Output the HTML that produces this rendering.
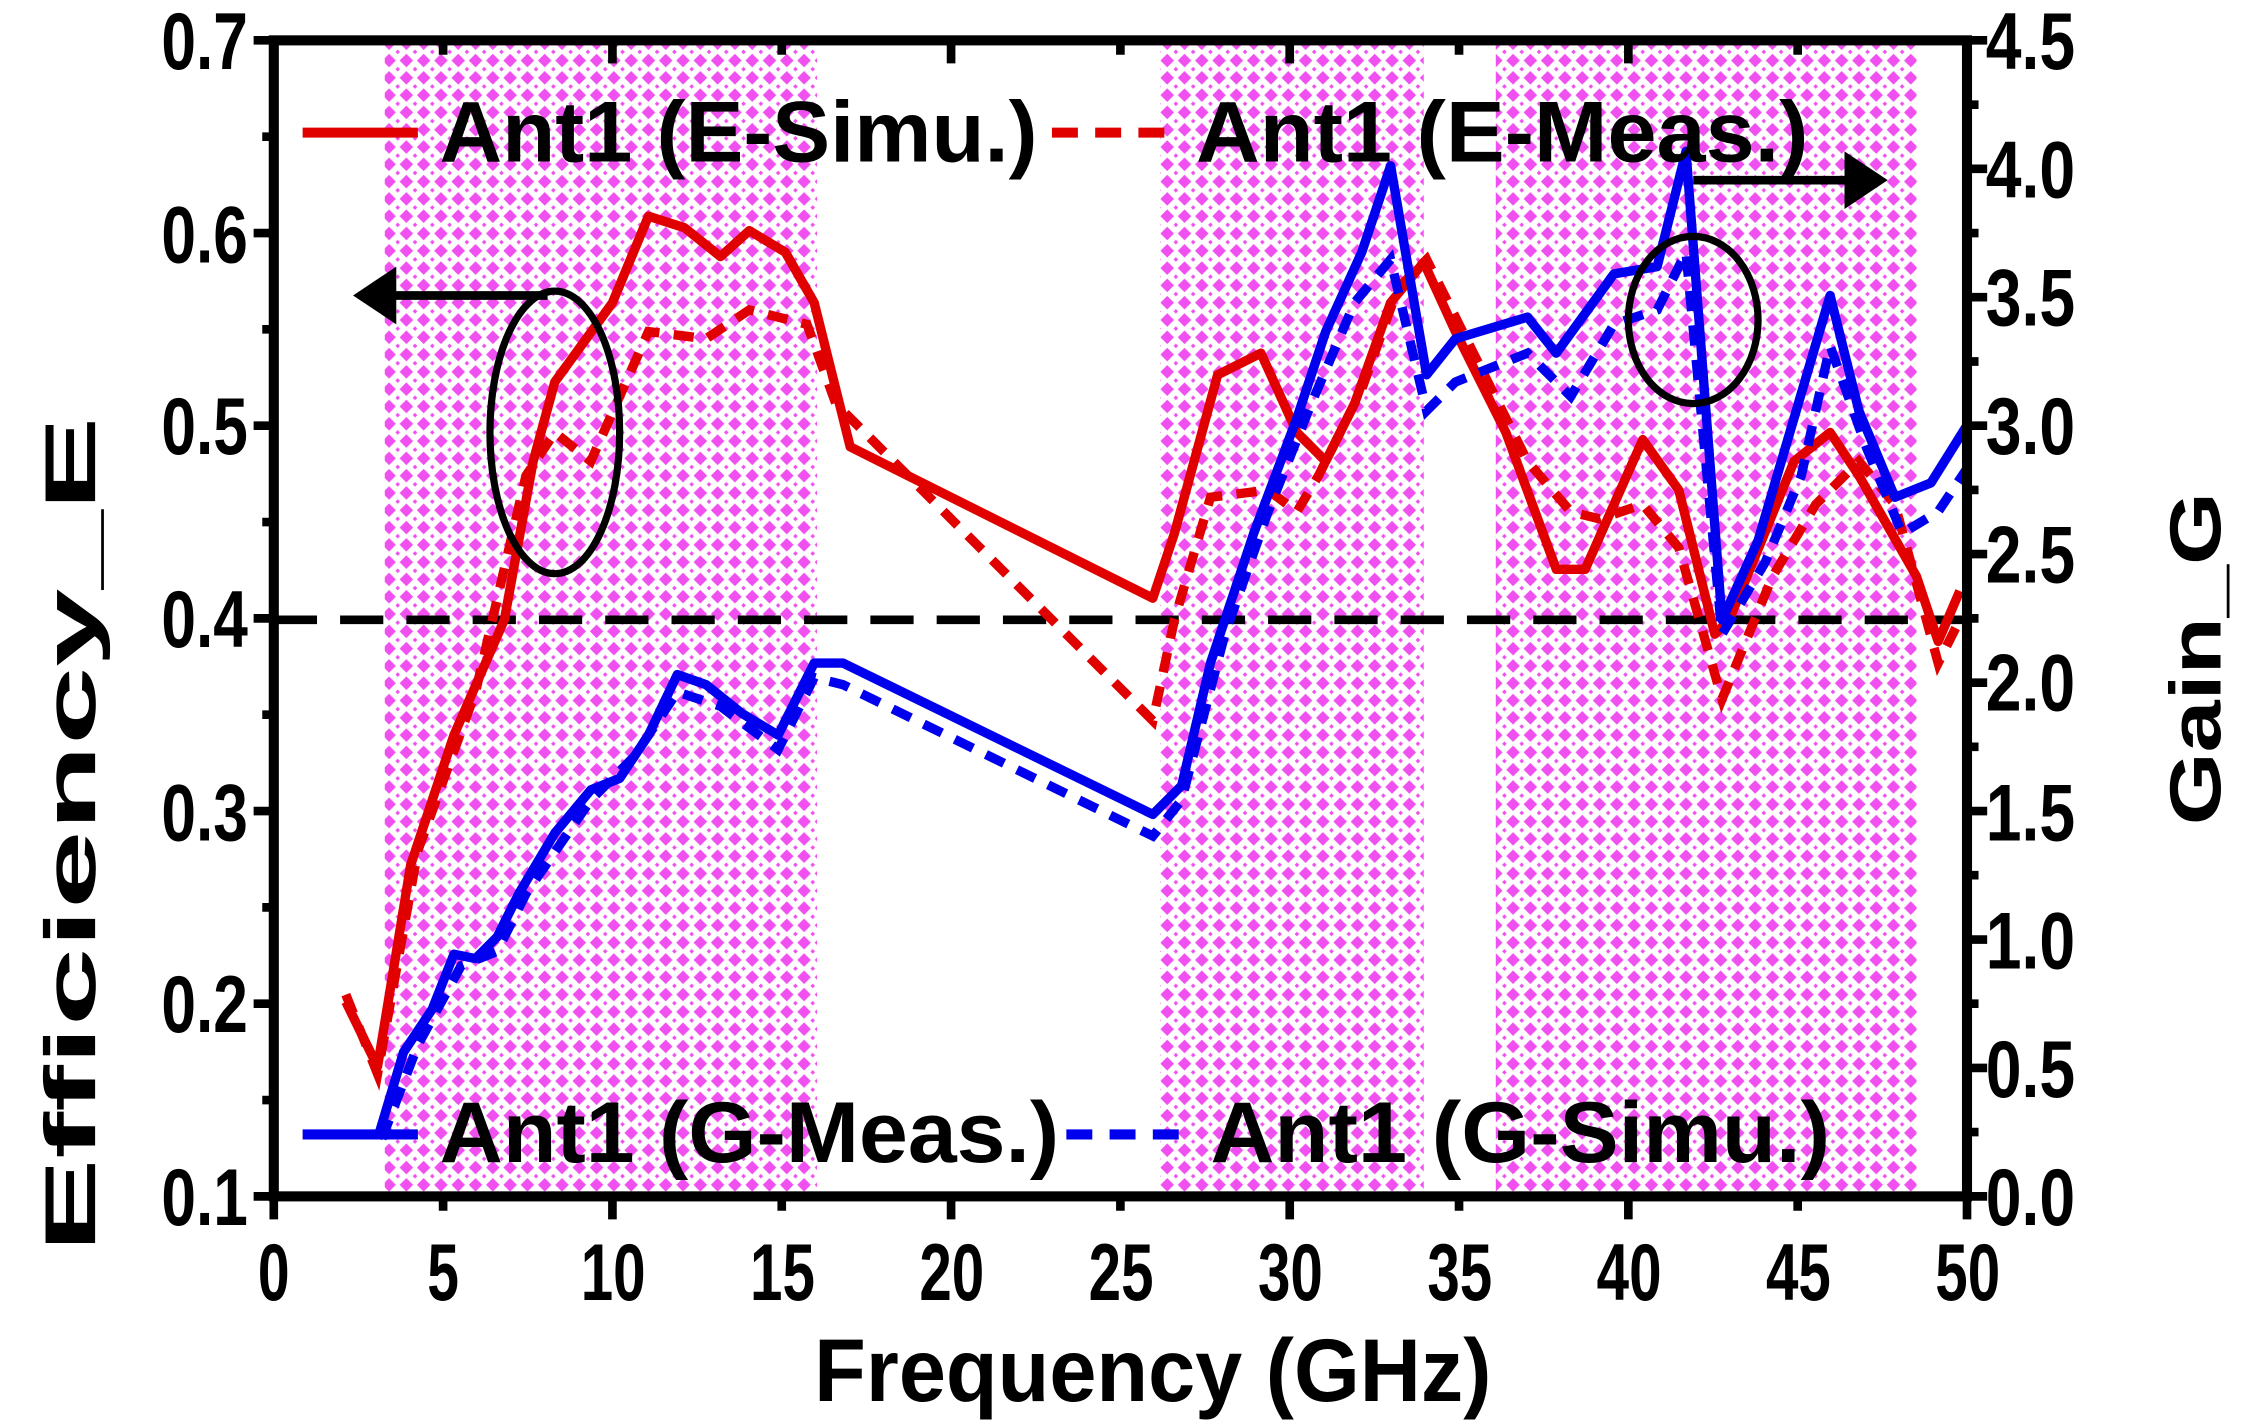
<!DOCTYPE html>
<html><head><meta charset="utf-8"><style>
html,body{margin:0;padding:0;background:#fff;width:2248px;height:1427px;overflow:hidden}
svg{display:block}
text{font-family:"Liberation Sans",Arial,sans-serif;font-weight:bold;fill:#000}
</style></head><body>
<svg width="2248" height="1427" viewBox="0 0 1560 990" preserveAspectRatio="none" xmlns="http://www.w3.org/2000/svg">
<defs>
<pattern id="hp" width="12" height="12" patternUnits="userSpaceOnUse">
<rect width="12" height="12" fill="#ffffff"/>
<polygon points="6,1.3 10.7,6 6,10.7 1.3,6" fill="#f050f0"/>
<polygon points="0,0 1.6,0 0,1.6" fill="#f050f0"/>
<polygon points="12,0 10.4,0 12,1.6" fill="#f050f0"/>
<polygon points="0,12 1.6,12 0,10.4" fill="#f050f0"/>
<polygon points="12,12 10.4,12 12,10.4" fill="#f050f0"/>
</pattern>
</defs>
<rect x="267" y="28" width="300" height="802" fill="url(#hp)"/>
<rect x="805" y="28" width="183" height="802" fill="url(#hp)"/>
<rect x="1038" y="28" width="292" height="802" fill="url(#hp)"/>
<line x1="190" y1="430" x2="1365" y2="430" stroke="#000" stroke-width="6" stroke-dasharray="30,16"/>
<polyline fill="none" stroke="#e00000" stroke-width="6.5" stroke-linejoin="round" points="240,695 262,740 285,600 315,510 350,430 370,320 385,265 425,210 450,150 475,158 500,178 520,160 545,175 565,210 590,310 800,415 815,370 845,260 875,245 900,300 920,320 940,280 965,210 988,182 1010,230 1045,300 1080,395 1100,395 1140,305 1165,340 1190,440 1200,430 1245,320 1270,300 1290,330 1330,400 1345,445 1360,410"/>
<polyline fill="none" stroke="#e00000" stroke-width="6.5" stroke-dasharray="14,10" points="240,690 262,745 290,590 330,480 365,330 385,300 410,320 450,230 490,235 520,215 560,225 580,280 800,500 815,430 840,345 880,340 900,355 915,330 945,270 970,200 990,180 1020,240 1060,320 1090,355 1110,360 1140,350 1165,380 1195,485 1230,400 1260,350 1290,320 1315,350 1345,460 1360,430"/>
<polyline fill="none" stroke="#0000ee" stroke-width="6.5" stroke-linejoin="round" points="262,790 280,730 300,700 315,662 330,665 345,650 360,620 385,578 410,548 430,540 450,510 470,468 490,475 515,495 540,510 565,460 585,460 800,565 820,545 840,460 870,370 900,290 920,230 945,175 965,115 990,260 1010,235 1060,220 1080,245 1120,190 1150,185 1170,105 1195,430 1220,375 1245,290 1270,205 1290,285 1315,345 1340,335 1365,295"/>
<polyline fill="none" stroke="#0000ee" stroke-width="6.5" stroke-dasharray="14,10" points="265,790 290,725 320,670 345,660 365,620 410,555 440,525 470,480 500,490 540,520 565,470 585,475 800,580 820,555 850,440 880,355 910,280 940,210 965,180 990,285 1010,265 1060,245 1090,275 1120,225 1150,215 1170,175 1195,440 1225,390 1250,330 1270,240 1295,310 1320,370 1345,355 1365,325"/>
<ellipse cx="385" cy="300" rx="45" ry="98" fill="none" stroke="#000" stroke-width="5"/>
<ellipse cx="1175" cy="222" rx="45" ry="58" fill="none" stroke="#000" stroke-width="5"/>
<line x1="380" y1="205" x2="265" y2="205" stroke="#000" stroke-width="6"/>
<polygon points="245,205 275,185 275,225" fill="#000"/>
<line x1="1175" y1="125" x2="1285" y2="125" stroke="#000" stroke-width="6"/>
<polygon points="1310,125 1280,105 1280,145" fill="#000"/>
<line x1="210" y1="92" x2="290" y2="92" stroke="#e00000" stroke-width="7"/>
<text x="305" y="112" font-size="60" textLength="415" lengthAdjust="spacingAndGlyphs">Ant1 (E-Simu.)</text>
<line x1="730" y1="92" x2="815" y2="92" stroke="#e00000" stroke-width="7" stroke-dasharray="18,12"/>
<text x="830" y="112" font-size="60" textLength="425" lengthAdjust="spacingAndGlyphs">Ant1 (E-Meas.)</text>
<line x1="210" y1="787" x2="290" y2="787" stroke="#0000ee" stroke-width="7"/>
<text x="305" y="806" font-size="60" textLength="430" lengthAdjust="spacingAndGlyphs">Ant1 (G-Meas.)</text>
<line x1="740" y1="787" x2="825" y2="787" stroke="#0000ee" stroke-width="7" stroke-dasharray="18,12"/>
<text x="840" y="806" font-size="60" textLength="430" lengthAdjust="spacingAndGlyphs">Ant1 (G-Simu.)</text>
<rect x="190" y="28" width="1175" height="802" fill="none" stroke="#000" stroke-width="7"/>
<g stroke="#000" stroke-width="6">
<path d="M190,830v16M307.5,830v10M425,830v16M542.5,830v10M660,830v16M777.5,830v10M895,830v16M1012.5,830v10M1130,830v16M1247.5,830v10M1365,830v16
M190,28v16M307.5,28v10M425,28v16M542.5,28v10M660,28v16M777.5,28v10M895,28v16M1012.5,28v10M1130,28v16M1247.5,28v10M1365,28v16
M190,28h-14M190,94.8h-8M190,161.7h-14M190,228.5h-8M190,295.3h-14M190,362.2h-8M190,429h-14M190,495.8h-8M190,562.7h-14M190,629.5h-8M190,696.3h-14M190,763.2h-8M190,830h-14
M1365,830h14M1365,785.4h8M1365,740.9h14M1365,696.3h8M1365,651.8h14M1365,607.2h8M1365,562.7h14M1365,518.1h8M1365,473.6h14M1365,429h8M1365,384.4h14M1365,339.9h8M1365,295.3h14M1365,250.8h8M1365,206.2h14M1365,161.7h8M1365,117.1h14M1365,72.6h8M1365,28h14"/>
</g>
<g font-size="56">
<text x="112" y="48" textLength="60" lengthAdjust="spacingAndGlyphs">0.7</text>
<text x="112" y="182" textLength="60" lengthAdjust="spacingAndGlyphs">0.6</text>
<text x="112" y="315" textLength="60" lengthAdjust="spacingAndGlyphs">0.5</text>
<text x="112" y="449" textLength="60" lengthAdjust="spacingAndGlyphs">0.4</text>
<text x="112" y="583" textLength="60" lengthAdjust="spacingAndGlyphs">0.3</text>
<text x="112" y="716" textLength="60" lengthAdjust="spacingAndGlyphs">0.2</text>
<text x="112" y="850" textLength="60" lengthAdjust="spacingAndGlyphs">0.1</text>
<text x="1378" y="48" textLength="62" lengthAdjust="spacingAndGlyphs">4.5</text>
<text x="1378" y="137" textLength="62" lengthAdjust="spacingAndGlyphs">4.0</text>
<text x="1378" y="226" textLength="62" lengthAdjust="spacingAndGlyphs">3.5</text>
<text x="1378" y="315" textLength="62" lengthAdjust="spacingAndGlyphs">3.0</text>
<text x="1378" y="404" textLength="62" lengthAdjust="spacingAndGlyphs">2.5</text>
<text x="1378" y="493" textLength="62" lengthAdjust="spacingAndGlyphs">2.0</text>
<text x="1378" y="583" textLength="62" lengthAdjust="spacingAndGlyphs">1.5</text>
<text x="1378" y="672" textLength="62" lengthAdjust="spacingAndGlyphs">1.0</text>
<text x="1378" y="761" textLength="62" lengthAdjust="spacingAndGlyphs">0.5</text>
<text x="1378" y="850" textLength="62" lengthAdjust="spacingAndGlyphs">0.0</text>
</g>
<g font-size="56">
<text x="179" y="902" textLength="22" lengthAdjust="spacingAndGlyphs">0</text>
<text x="296.5" y="902" textLength="22" lengthAdjust="spacingAndGlyphs">5</text>
<text x="403" y="902" textLength="45" lengthAdjust="spacingAndGlyphs">10</text>
<text x="520.5" y="902" textLength="45" lengthAdjust="spacingAndGlyphs">15</text>
<text x="638" y="902" textLength="45" lengthAdjust="spacingAndGlyphs">20</text>
<text x="755.5" y="902" textLength="45" lengthAdjust="spacingAndGlyphs">25</text>
<text x="873" y="902" textLength="45" lengthAdjust="spacingAndGlyphs">30</text>
<text x="990.5" y="902" textLength="45" lengthAdjust="spacingAndGlyphs">35</text>
<text x="1108" y="902" textLength="45" lengthAdjust="spacingAndGlyphs">40</text>
<text x="1225.5" y="902" textLength="45" lengthAdjust="spacingAndGlyphs">45</text>
<text x="1343" y="902" textLength="45" lengthAdjust="spacingAndGlyphs">50</text>
</g>
<text x="565" y="972" font-size="62" textLength="470" lengthAdjust="spacingAndGlyphs">Frequency (GHz)</text>
<text transform="translate(66,579) rotate(-90) scale(1.95,1)" font-size="50" text-anchor="middle">Efficiency_E</text>
<text transform="translate(1541,457) rotate(-90) scale(1.3,1)" font-size="50" text-anchor="middle">Gain_G</text>
</svg>
</body></html>
